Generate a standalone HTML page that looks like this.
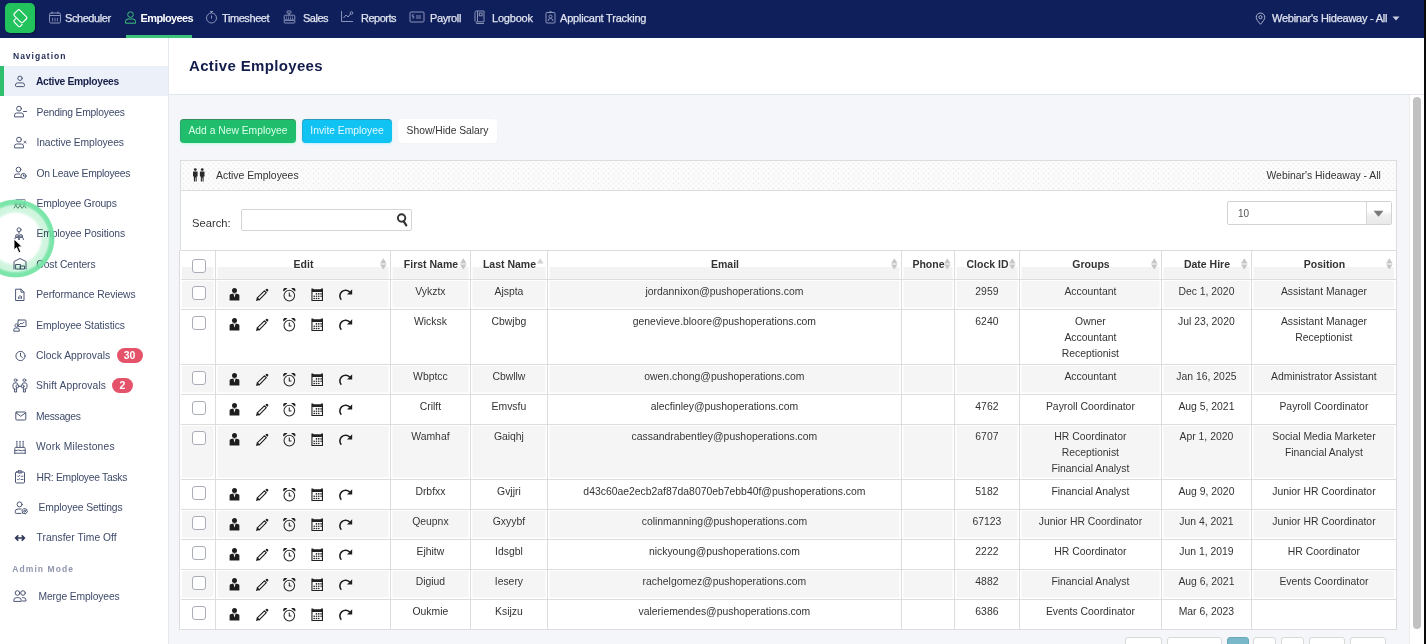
<!DOCTYPE html>
<html><head><meta charset="utf-8">
<style>
*{box-sizing:border-box;margin:0;padding:0}
html,body{width:1426px;height:644px;overflow:hidden}
body{position:relative;will-change:transform;background:#f4f6fa;font-family:"Liberation Sans",sans-serif;color:#333}
.abs{position:absolute}
#nav{left:0;top:0;width:1424px;height:38px;background:#0f1f5b}
#blk{left:1424px;top:0;width:2px;height:644px;background:#0a0a0a}
.logo{left:5px;top:3px;width:30px;height:30px;border-radius:5px;background:#22c25d;box-shadow:1px 1px 1px rgba(0,0,0,.35)}
.ni{top:0;height:36px;line-height:36px;font-size:11px;color:#dfe3ef;letter-spacing:-0.3px;white-space:nowrap;-webkit-text-stroke:0.25px #dfe3ef}
.ni.act{-webkit-text-stroke:0}
.ni.act{color:#fff;font-weight:bold}
.nic{position:absolute;top:11px}
.uline{left:126px;top:35px;width:66px;height:3px;background:#3cc27a}
#side{left:0;top:38px;width:169px;height:606px;background:#fff;border-right:1px solid #e4e8ef}
.sl{left:13px;font-size:8.5px;font-weight:bold;letter-spacing:1.0px;color:#1f2a55;white-space:nowrap}
.si{left:0;width:168px;height:30.4px;line-height:30.4px;font-size:10.3px;color:#3e4a69;white-space:nowrap}
.si .t{position:absolute;left:36px;top:1.4px}
.si .ic{position:absolute;left:13px;top:9px}
.si.act{background:#ecf1f9}
.si.act .t{font-weight:bold;color:#17204a;letter-spacing:-0.2px}
.si.act:before{content:"";position:absolute;left:0;top:0;width:4px;height:100%;background:#2fbf6e}
.badge{position:absolute;top:8px;height:15px;line-height:15px;border-radius:8px;background:#e4536a;color:#fff;font-size:10.5px;font-weight:bold;text-align:center}
#hdr{left:169px;top:38px;width:1255px;height:57px;background:#fff;border-bottom:1px solid #e2e6ee}
#hdr h1{position:absolute;left:20px;top:18.9px;font-size:15px;font-weight:bold;color:#131d4b;letter-spacing:0.35px;white-space:nowrap}
#sb{left:1409px;top:95px;width:15px;height:549px;background:#fff;border-left:1px solid #ececec}
#thumb{left:1413px;top:97px;width:8px;height:532px;border-radius:4px;background:#c1c1c1}
.btn{top:119px;height:24px;line-height:24.6px;border-radius:4px;font-size:10.3px;text-align:center;white-space:nowrap}

#panel{left:180px;top:160px;width:1217px;height:91px;background:#fff;border:1px solid #ddd;border-bottom:none}
#panel .ph{position:absolute;left:0;top:0;width:100%;height:30px;border-bottom:1px solid #dcdcdc;background-color:#fdfdfd;background-image:radial-gradient(#ededed 0.9px,transparent 1.1px),radial-gradient(#ededed 0.9px,transparent 1.1px);background-size:5px 5px;background-position:0 0,2.5px 2.5px}
.pht{top:167.8px;height:16px;line-height:16px;font-size:10.4px;color:#333;white-space:nowrap}
.srch{left:241px;top:209px;width:171px;height:22px;border:1px solid #d6d6d6;border-radius:2px;background:#fff}
.sel{left:1227px;top:201px;width:165px;height:24px;border:1px solid #d3d3d3;border-radius:2px;background:#fff;font-size:9.5px;color:#555}
.selb{position:absolute;left:137.5px;top:0;width:25.5px;height:22px;border-left:1px solid #d8d8d8;background:linear-gradient(#fff 0,#fff 40%,#efefef 60%,#e9e9e9 100%)}
#tbl{left:180px;top:250px;width:1217px;height:380px;border:1px solid #dcdcdc;border-left-color:#fff;background:#fff;font-size:10.4px;color:#333}
#tbl .abs{position:absolute}
.thg{background:#f3f3f3}
.rg{background:#f5f5f5}
.hl{left:0;width:1215px;height:4px;background:linear-gradient(rgba(255,255,255,.55) 0 1px,#fff 1px 2px,#dddddd 2px 3px,#fff 3px 4px)}
.vl{top:0;width:1px;height:378px;background:#dddddd}
.vw{top:0;width:5px;height:378px;background:linear-gradient(90deg,rgba(255,255,255,.55) 0 1px,#fff 1px 2px,transparent 2px 3px,#fff 3px 4px,rgba(255,255,255,.55) 4px 5px)}
.th{top:4.5px;text-shadow:0 1px 0 #fff;height:16px;line-height:16px;text-align:center;font-weight:bold;font-size:10.5px;color:#333;white-space:nowrap}
.td{line-height:16px;text-align:center;white-space:nowrap;margin-left:-0.6px;text-shadow:0 0 1px #fff,0 0 1px #fff}
.cb{width:14px;height:14px;border:1px solid #a9adb8;border-radius:3px;background:#fff}
.pg{top:637px;height:12px;border:1px solid #d9d9d9;border-radius:3px;background:#fff}
.ei{filter:drop-shadow(0 0 0.8px #fff)}
</style></head><body>
<div id="nav" class="abs"></div>
<div class="abs logo"></div>
<div class="abs uline"></div>
<svg class="abs" style="left:5px;top:3px" width="30" height="30" viewBox="0 0 30 30" fill="none" stroke="#fff" stroke-width="1.15" stroke-linejoin="round" stroke-linecap="round"><rect x="9.2" y="9.3" width="12.3" height="7.9" rx="1.7" transform="rotate(45 15.35 13.25)"/><path d="M10.6 15.8L9.2 17.2a1.3 1.3 0 0 0 0 1.8l4.3 4.3a1.3 1.3 0 0 0 1.8 0l1.8-1.8"/></svg>
<svg class="abs" style="left:48px;top:11px" width="14" height="13" viewBox="0 0 14 13" fill="none" stroke="#8a93b8" stroke-width="1"><rect x="1.5" y="2" width="11" height="10" rx="1.5"/><path d="M4 0.5v2.5M10 0.5v2.5M1.5 4.5h11"/><path d="M4.6 6.8v3.6M7 6.8v3.6M9.4 6.8v3.6" stroke-width="0.85"/></svg>
<div class="abs ni" style="left:65px;letter-spacing:-0.43px">Scheduler</div>
<svg class="abs" style="left:124px;top:11px" width="13" height="13" viewBox="0 0 13 13" fill="none" stroke="#3cc27a" stroke-width="1"><circle cx="6.5" cy="3.6" r="2.8"/><path d="M1.5 12.2v-1.6a2.6 2.6 0 0 1 2.6-2.6h4.8a2.6 2.6 0 0 1 2.6 2.6v1.6z"/></svg>
<div class="abs ni act" style="left:140.5px;letter-spacing:-0.62px">Employees</div>
<svg class="abs" style="left:205px;top:10px" width="13" height="14" viewBox="0 0 13 14" fill="none" stroke="#8a93b8" stroke-width="1"><circle cx="6.5" cy="8" r="5"/><path d="M5 1.5h3M6.5 1.5v1.5M6.5 5.5v3"/></svg>
<div class="abs ni" style="left:222px;letter-spacing:-0.42px">Timesheet</div>
<svg class="abs" style="left:283px;top:10px" width="13" height="14" viewBox="0 0 13 14" fill="none" stroke="#8a93b8" stroke-width="1"><rect x="4" y="1" width="4" height="2.2" rx="0.6"/><path d="M6 3.2v2"/><rect x="1.2" y="5.2" width="10.6" height="5" rx="1"/><rect x="1.2" y="10.2" width="10.6" height="2.8" rx="0.6"/><path d="M3 7h1M5 7h1M7 7h1M9 7h1M3 8.6h1M5 8.6h1M7 8.6h1M9 8.6h1" stroke-width="0.9"/></svg>
<div class="abs ni" style="left:303px;letter-spacing:-0.5px">Sales</div>
<svg class="abs" style="left:340px;top:10px" width="14" height="13" viewBox="0 0 14 13" fill="none" stroke="#8a93b8" stroke-width="1"><path d="M1.5 1v10.5h11.5"/><path d="M3.5 8l2.5-3 2 2 2.5-3"/><circle cx="11.5" cy="3" r="1.3"/></svg>
<div class="abs ni" style="left:361px;letter-spacing:-0.5px">Reports</div>
<svg class="abs" style="left:409px;top:11px" width="16" height="12" viewBox="0 0 16 12" fill="none" stroke="#8a93b8" stroke-width="1"><rect x="1" y="1" width="14" height="10" rx="1"/><path d="M4.8 3.8h-1.5v1.6h1.5v1.6h-1.5M7 5h5M7 7h5" stroke-width="0.9"/></svg>
<div class="abs ni" style="left:430px;letter-spacing:-0.38px">Payroll</div>
<svg class="abs" style="left:473px;top:10px" width="13" height="14" viewBox="0 0 13 14" fill="none" stroke="#8a93b8" stroke-width="1"><path d="M2 11.5v-9a1.5 1.5 0 0 1 1.5-1.5h7.5v10.8h-7.5a1.5 1.5 0 0 0 0 1.7h7.5"/><path d="M4.5 1v10.5"/><rect x="6.3" y="3" width="2.8" height="2.8"/></svg>
<div class="abs ni" style="left:492px;letter-spacing:-0.2px">Logbook</div>
<svg class="abs" style="left:545px;top:10px" width="11" height="14" viewBox="0 0 11 14" fill="none" stroke="#8a93b8" stroke-width="1"><rect x="1" y="2.5" width="9" height="10.5" rx="0.8"/><path d="M4 2.5l1.5-1.5 1.5 1.5"/><circle cx="5.5" cy="6.5" r="1.5"/><path d="M3 11a2.5 2.5 0 0 1 5 0"/></svg>
<div class="abs ni" style="left:560px;letter-spacing:-0.2px">Applicant Tracking</div>
<svg class="abs" style="left:1255px;top:12px" width="11" height="13" viewBox="0 0 11 13" fill="none" stroke="#aeb5d0" stroke-width="1"><path d="M5.5 12.3c-2.4-2.8-4.3-5-4.3-7a4.3 4.3 0 0 1 8.6 0c0 2-1.9 4.2-4.3 7z"/><circle cx="5.5" cy="5.2" r="1.6"/></svg>
<div class="abs ni" style="left:1272px;letter-spacing:-0.25px">Webinar's Hideaway - All</div>
<svg class="abs" style="left:1392px;top:16px" width="8" height="5" viewBox="0 0 8 5"><path d="M0.5 0.5h7l-3.5 4z" fill="#c9cee0"/></svg>

<div id="side" class="abs"></div>
<div class="abs si act" style="top:66.0px"><svg class="ic" width="14" height="14" viewBox="0 0 14 14" fill="none" stroke="#4b5674" stroke-width="1" stroke-linecap="round" stroke-linejoin="round" style="left:14px"><circle cx="6" cy="3.3" r="2.2"/><path d="M1.5 10.6v-0.6a2.1 2.1 0 0 1 2.1-2.1h4.8a2.1 2.1 0 0 1 2.1 2.1v0.6a1 1 0 0 1-1 1h-7a1 1 0 0 1-1-1z"/></svg><span class="t" style="left:36px;letter-spacing:-0.33px">Active Employees</span></div>
<div class="abs si" style="top:96.4px"><svg class="ic" width="14" height="14" viewBox="0 0 14 14" fill="none" stroke="#4b5674" stroke-width="1" stroke-linecap="round" stroke-linejoin="round"><circle cx="6" cy="3.6" r="2.4"/><path d="M1.5 11.5v-1.3a2.2 2.2 0 0 1 2.2-2.2h4.6a2.2 2.2 0 0 1 2.2 2.2v1.3z"/><path d="M10.5 6.5h3"/></svg><span class="t" style="left:36.5px;letter-spacing:-0.2px">Pending Employees</span></div>
<div class="abs si" style="top:126.8px"><svg class="ic" width="14" height="14" viewBox="0 0 14 14" fill="none" stroke="#4b5674" stroke-width="1" stroke-linecap="round" stroke-linejoin="round"><circle cx="6" cy="3.6" r="2.4"/><path d="M1.5 11.5v-1.3a2.2 2.2 0 0 1 2.2-2.2h4.6a2.2 2.2 0 0 1 2.2 2.2v1.3z"/><path d="M11 5.2l2 2M13 5.2l-2 2" stroke-width="0.9"/></svg><span class="t" style="left:36.5px;letter-spacing:-0.11px">Inactive Employees</span></div>
<div class="abs si" style="top:157.2px"><svg class="ic" width="14" height="14" viewBox="0 0 14 14" fill="none" stroke="#4b5674" stroke-width="1" stroke-linecap="round" stroke-linejoin="round"><circle cx="5.5" cy="3.6" r="2.4"/><path d="M7.5 11.5h-6v-1.3a2.2 2.2 0 0 1 2.2-2.2h3"/><circle cx="10.5" cy="10" r="2.6"/><path d="M10.5 8.8v1.3h1"/></svg><span class="t" style="left:36.5px;letter-spacing:-0.27px">On Leave Employees</span></div>
<div class="abs si" style="top:187.6px"><svg class="ic" width="14" height="14" viewBox="0 0 14 14" fill="none" stroke="#4b5674" stroke-width="1" stroke-linecap="round" stroke-linejoin="round"><path d="M3 2.5h9v2" stroke="#8a93ab"/><circle cx="2.8" cy="7" r="1.1"/><circle cx="7" cy="7" r="1.1"/><circle cx="11.2" cy="7" r="1.1"/><path d="M1 11l1.8-2.6 1.8 2.6M5.2 11l1.8-2.6 1.8 2.6M9.4 11l1.8-2.6 1.8 2.6" stroke="#5a8f74"/></svg><span class="t" style="left:36.5px;letter-spacing:-0.15px">Employee Groups</span></div>
<div class="abs si" style="top:218.0px"><svg class="ic" width="14" height="14" viewBox="0 0 14 14" fill="none" stroke="#4b5674" stroke-width="1" stroke-linecap="round" stroke-linejoin="round"><circle cx="6" cy="2.8" r="2"/><path d="M6 4.8v2.4"/><circle cx="4" cy="9" r="1.4"/><circle cx="8" cy="9" r="1.4"/><path d="M1.5 12.5a2.5 2.5 0 0 1 5 0M5.5 12.5a2.5 2.5 0 0 1 5 0"/></svg><span class="t" style="left:36.5px;letter-spacing:-0.11px">Employee Positions</span></div>
<div class="abs si" style="top:248.4px"><svg class="ic" width="14" height="14" viewBox="0 0 14 14" fill="none" stroke="#4b5674" stroke-width="1" stroke-linecap="round" stroke-linejoin="round"><path d="M1 12V4.5l6-3 6 3V12"/><rect x="3" y="7.5" width="4.5" height="4.5"/><rect x="7.5" y="9" width="4" height="3"/></svg><span class="t" style="left:36.3px;letter-spacing:-0.07px">Cost Centers</span></div>
<div class="abs si" style="top:278.8px"><svg class="ic" width="14" height="14" viewBox="0 0 14 14" fill="none" stroke="#4b5674" stroke-width="1" stroke-linecap="round" stroke-linejoin="round"><path d="M3 1.2h5l3 3v8.3h-8z"/><path d="M8 1.2v3h3"/><path d="M5.5 10.5v-1.5M7 10.5v-3M8.5 10.5v-2" stroke-width="0.9"/></svg><span class="t" style="left:36.3px;letter-spacing:-0.08px">Performance Reviews</span></div>
<div class="abs si" style="top:309.2px"><svg class="ic" width="14" height="14" viewBox="0 0 14 14" fill="none" stroke="#4b5674" stroke-width="1" stroke-linecap="round" stroke-linejoin="round"><rect x="5" y="2" width="8" height="6.5" rx="0.8"/><path d="M6.5 6.5l1.5-1.5 1.2 1 2-2" stroke-width="0.9"/><circle cx="3.5" cy="7.5" r="1.6"/><path d="M0.8 12.8v-0.8a2 2 0 0 1 2-2h1.5a2 2 0 0 1 2 2v0.8z"/></svg><span class="t" style="left:36.3px;letter-spacing:-0.07px">Employee Statistics</span></div>
<div class="abs si" style="top:339.6px"><svg class="ic" width="14" height="14" viewBox="0 0 14 14" fill="none" stroke="#4b5674" stroke-width="1" stroke-linecap="round" stroke-linejoin="round" style="left:14.5px"><circle cx="5.5" cy="7" r="4.6"/><path d="M5.5 4.2v3l1.8 1.2"/></svg><span class="t" style="left:36px;letter-spacing:0.03px">Clock Approvals</span><span class="badge" style="left:116.5px;width:26px">30</span></div>
<div class="abs si" style="top:370.0px"><svg class="ic" width="17" height="14" viewBox="0 0 17 14" fill="none" stroke="#4b5674" stroke-width="1" stroke-linecap="round" stroke-linejoin="round" style="left:11.5px;top:8px;height:15px"><ellipse cx="3.6" cy="1.7" rx="1.5" ry="1.2"/><ellipse cx="12.4" cy="1.7" rx="1.5" ry="1.2"/><path d="M3.3 10.6h-0.4a1.9 1.9 0 0 1-1.9-1.9v-2.4a1.9 1.9 0 0 1 1.9-1.9h1.2a1.9 1.9 0 0 1 1.9 1.6M4.6 9.2v4.3h-2v-2.9M12.7 10.6h0.4a1.9 1.9 0 0 0 1.9-1.9v-2.4a1.9 1.9 0 0 0-1.9-1.9h-1.2a1.9 1.9 0 0 0-1.9 1.6M11.4 9.2v4.3h2v-2.9"/><path d="M6.8 7.8h2.4"/><circle cx="5.4" cy="7.8" r="1.45"/><circle cx="10.6" cy="7.8" r="1.45"/></svg><span class="t" style="left:36px;letter-spacing:0.09px">Shift Approvals</span><span class="badge" style="left:111.8px;width:21px">2</span></div>
<div class="abs si" style="top:400.4px"><svg class="ic" width="14" height="14" viewBox="0 0 14 14" fill="none" stroke="#4b5674" stroke-width="1" stroke-linecap="round" stroke-linejoin="round" style="left:14.5px"><rect x="0.8" y="3" width="10" height="8" rx="1"/><path d="M1 3.8l4.8 3.5 4.8-3.5"/></svg><span class="t" style="left:36px;letter-spacing:-0.3px">Messages</span></div>
<div class="abs si" style="top:430.8px"><svg class="ic" width="14" height="14" viewBox="0 0 14 14" fill="none" stroke="#4b5674" stroke-width="1" stroke-linecap="round" stroke-linejoin="round"><path d="M1.3 13.2h11.4M1.8 13.2V8.4a1 1 0 0 1 1-1h8.4a1 1 0 0 1 1 1v4.8M1.8 10.4c1.7 1.2 3.4-1.2 5.2 0s3.5-1.2 5.2 0M3.9 7.4V3.2M7 7.4V3.2M10.1 7.4V3.2" stroke-width="0.95"/><path d="M3.9 1.4v.7M7 1.4v.7M10.1 1.4v.7" stroke-width="1.4"/></svg><span class="t" style="left:36px;letter-spacing:0.19px">Work Milestones</span></div>
<div class="abs si" style="top:461.2px"><svg class="ic" width="14" height="14" viewBox="0 0 14 14" fill="none" stroke="#4b5674" stroke-width="1" stroke-linecap="round" stroke-linejoin="round" style="left:14px"><rect x="1.5" y="2" width="9" height="11" rx="1"/><rect x="4" y="0.8" width="4" height="2.2" rx="0.6"/><path d="M3.5 6l0.8 0.8 1.2-1.5M7 6.2h2M3.5 9.3l0.8 0.8 1.2-1.5M7 9.5h2" stroke-width="0.9"/></svg><span class="t" style="left:36.5px;letter-spacing:-0.27px">HR: Employee Tasks</span></div>
<div class="abs si" style="top:491.6px"><svg class="ic" width="15" height="14" viewBox="0 0 15 14" fill="none" stroke="#4b5674" stroke-width="1" stroke-linecap="round" stroke-linejoin="round" style="left:14px"><circle cx="5.6" cy="3.4" r="2.5"/><path d="M7 12.4H2.2a1 1 0 0 1-1-1v-0.6a2.8 2.8 0 0 1 2.8-2.8h3.2"/><path d="M13.40 10.95L12.20 11.80L11.35 13.00L10.01 12.38L8.55 12.25L8.42 10.79L7.80 9.45L9.00 8.60L9.85 7.40L11.19 8.02L12.65 8.15L12.78 9.61Z"/><circle cx="10.6" cy="10.2" r="0.9"/></svg><span class="t" style="left:38.5px;letter-spacing:-0.11px">Employee Settings</span></div>
<div class="abs si" style="top:522.0px"><svg class="ic" width="14" height="14" viewBox="0 0 14 14" fill="none" stroke="#2e3856" stroke-width="1.6" stroke-linecap="round" stroke-linejoin="round" style="left:13.8px"><path d="M1.5 7h9M3.8 4.8L1.5 7l2.3 2.2M8.2 4.8L10.5 7 8.2 9.2"/></svg><span class="t" style="left:36.5px;letter-spacing:0.04px">Transfer Time Off</span></div>
<div class="abs si" style="top:580.2px"><svg class="ic" width="15" height="14" viewBox="0 0 15 14" fill="none" stroke="#4b5674" stroke-width="1" stroke-linecap="round" stroke-linejoin="round"><circle cx="4.5" cy="4" r="2.3"/><path d="M0.8 12v-0.8a2.5 2.5 0 0 1 2.5-2.5h2.4a2.5 2.5 0 0 1 2.5 2.5V12z"/><circle cx="10" cy="4" r="2.3"/><path d="M9.5 8.7h1a2.5 2.5 0 0 1 2.5 2.5V12h-3.5"/></svg><span class="t" style="left:38.5px;letter-spacing:-0.13px">Merge Employees</span></div>
<div class="abs sl" style="top:50.5px">Navigation</div>
<div class="abs sl" style="top:564px;left:12.2px;color:#8e96ad;letter-spacing:1.1px">Admin Mode</div>
<div id="hdr" class="abs"><h1>Active Employees</h1></div>
<div id="panel" class="abs"><div class="ph"></div></div>
<svg class="abs" style="left:192px;top:168px" width="14" height="14" viewBox="0 0 14 14" fill="#2a2a2a"><circle cx="3.3" cy="1.6" r="1.4"/><circle cx="10.2" cy="1.6" r="1.4"/><path d="M1 3.6h4.6v5h-0.9v4.8h-1.1v-3.6h-0.6v3.6h-1.1v-4.8h-0.9zM7.9 3.6h4.6v5h-0.9v4.8h-1.1v-3.6h-0.6v3.6h-1.1v-4.8h-0.9z"/></svg>
<div class="abs pht" style="left:216px">Active Employees</div>
<div class="abs pht" style="left:1266.5px">Webinar's Hideaway - All</div>
<div class="abs" style="left:192px;top:216.5px;font-size:11.2px;color:#333;letter-spacing:0px">Search:</div>
<div class="abs srch"></div>
<svg class="abs" style="left:395px;top:212px" width="14" height="16" viewBox="0 0 14 16" fill="none" stroke="#333" stroke-width="1.9"><circle cx="6.6" cy="6" r="3.7"/><path d="M8.7 9.3l2.6 4" stroke-width="2.2" stroke-linecap="round"/></svg>
<div class="abs sel"><span style="position:absolute;left:10px;top:5.5px;font-size:10px">10</span><div class="selb"></div><svg style="position:absolute;left:145px;top:8px" width="11" height="8" viewBox="0 0 11 8"><path d="M0.5 0.8h10l-5 6z" fill="#7a7a7a"/></svg></div>
<div class="abs" style="left:179px;top:250px;width:1px;height:380px;background:#dcdcdc"></div>
<div id="tbl" class="abs">
<div class="abs thg" style="left:1px;top:16px;width:1212px;height:12px"></div>
<div class="abs rg" style="left:1px;top:29px;width:1212px;height:28px"></div>
<div class="abs rg" style="left:1px;top:114px;width:1212px;height:28px"></div>
<div class="abs rg" style="left:1px;top:174px;width:1212px;height:53px"></div>
<div class="abs rg" style="left:1px;top:259px;width:1212px;height:28px"></div>
<div class="abs rg" style="left:1px;top:319px;width:1212px;height:28px"></div>
<div class="abs vw" style="left:32px"></div>
<div class="abs vw" style="left:207px"></div>
<div class="abs vw" style="left:287px"></div>
<div class="abs vw" style="left:364px"></div>
<div class="abs vw" style="left:718px"></div>
<div class="abs vw" style="left:771px"></div>
<div class="abs vw" style="left:836px"></div>
<div class="abs vw" style="left:978px"></div>
<div class="abs vw" style="left:1068px"></div>
<div class="abs hl" style="top:28px;height:2px;background:linear-gradient(#ddd 0 1px,#fff 1px 2px)"></div>
<div class="abs hl" style="top:56px"></div>
<div class="abs hl" style="top:111px"></div>
<div class="abs hl" style="top:141px"></div>
<div class="abs hl" style="top:171px"></div>
<div class="abs hl" style="top:226px"></div>
<div class="abs hl" style="top:256px"></div>
<div class="abs hl" style="top:286px"></div>
<div class="abs hl" style="top:316px"></div>
<div class="abs hl" style="top:346px"></div>
<div class="abs vl" style="left:34px"></div>
<div class="abs vl" style="left:209px"></div>
<div class="abs vl" style="left:289px"></div>
<div class="abs vl" style="left:366px"></div>
<div class="abs vl" style="left:720px"></div>
<div class="abs vl" style="left:773px"></div>
<div class="abs vl" style="left:838px"></div>
<div class="abs vl" style="left:980px"></div>
<div class="abs vl" style="left:1070px"></div>
<div class="abs th" style="left:35px;width:175px">Edit</div>
<svg class="abs" style="left:198.7px;top:7px" width="7" height="12" viewBox="0 0 7 12"><path d="M0 5.6L3.3 0.3 6.6 5.6zM0 6.6L3.3 11.6 6.6 6.6z" fill="#c6c6c6"/></svg>
<div class="abs th" style="left:210px;width:80px">First Name</div>
<svg class="abs" style="left:278.7px;top:7px" width="7" height="12" viewBox="0 0 7 12"><path d="M0 5.6L3.3 0.3 6.6 5.6zM0 6.6L3.3 11.6 6.6 6.6z" fill="#c6c6c6"/></svg>
<div class="abs th" style="left:290px;width:77px">Last Name</div>
<svg class="abs" style="left:355.7px;top:7px" width="7" height="12" viewBox="0 0 7 12"><path d="M0 5.6L3.3 0.3 6.6 5.6z" fill="#d2d2d2"/></svg>
<div class="abs th" style="left:367px;width:354px">Email</div>
<svg class="abs" style="left:709.7px;top:7px" width="7" height="12" viewBox="0 0 7 12"><path d="M0 5.6L3.3 0.3 6.6 5.6zM0 6.6L3.3 11.6 6.6 6.6z" fill="#c6c6c6"/></svg>
<div class="abs th" style="left:721px;width:53px">Phone</div>
<svg class="abs" style="left:762.7px;top:7px" width="7" height="12" viewBox="0 0 7 12"><path d="M0 5.6L3.3 0.3 6.6 5.6zM0 6.6L3.3 11.6 6.6 6.6z" fill="#c6c6c6"/></svg>
<div class="abs th" style="left:774px;width:65px">Clock ID</div>
<svg class="abs" style="left:827.7px;top:7px" width="7" height="12" viewBox="0 0 7 12"><path d="M0 5.6L3.3 0.3 6.6 5.6zM0 6.6L3.3 11.6 6.6 6.6z" fill="#c6c6c6"/></svg>
<div class="abs th" style="left:839px;width:142px">Groups</div>
<svg class="abs" style="left:969.7px;top:7px" width="7" height="12" viewBox="0 0 7 12"><path d="M0 5.6L3.3 0.3 6.6 5.6zM0 6.6L3.3 11.6 6.6 6.6z" fill="#c6c6c6"/></svg>
<div class="abs th" style="left:981px;width:90px">Date Hire</div>
<svg class="abs" style="left:1059.7px;top:7px" width="7" height="12" viewBox="0 0 7 12"><path d="M0 5.6L3.3 0.3 6.6 5.6zM0 6.6L3.3 11.6 6.6 6.6z" fill="#c6c6c6"/></svg>
<div class="abs th" style="left:1071px;width:145px">Position</div>
<svg class="abs" style="left:1204.7px;top:7px" width="7" height="12" viewBox="0 0 7 12"><path d="M0 5.6L3.3 0.3 6.6 5.6zM0 6.6L3.3 11.6 6.6 6.6z" fill="#c6c6c6"/></svg>
<div class="abs cb" style="left:11px;top:8px"></div>
<div class="abs cb" style="left:11px;top:35px"></div>
<svg class="abs ei" style="left:48.3px;top:37px" width="11" height="13" viewBox="0 0 11 13"><circle cx="5.5" cy="2.6" r="2.5" fill="#1e1e1e"/><path d="M0.6 12.4V7.6q0-1.5 1.5-1.7l2.3-0.3 1.1 4.2 1.1-4.2 2.3 0.3q1.5 0.2 1.5 1.7v4.8z" fill="#1e1e1e"/><path d="M4.9 5.5h1.2l-0.6 0.9z" fill="#1e1e1e"/></svg>
<svg class="abs ei" style="left:73.6px;top:37px" width="14" height="14" viewBox="0 0 14 14"><path d="M0.9 13.1l1-3.7 2.7 2.7z" fill="#1e1e1e"/><path d="M2.3 9.9L9.4 2.8 11.3 4.7 4.2 11.8z" fill="none" stroke="#1e1e1e" stroke-width="1.15" stroke-linejoin="round"/><path d="M10.3 1.9l0.9-0.9q0.7-0.6 1.4 0l0.5 0.5q0.6 0.7 0 1.4l-0.9 0.9z" fill="#1e1e1e"/></svg>
<svg class="abs ei" style="left:102.2px;top:37px" width="13" height="14" viewBox="0 0 13 14"><circle cx="6.3" cy="7.6" r="5.3" fill="none" stroke="#2a2a2a" stroke-width="1.05"/><path d="M6.3 4.6v3.4h2.2" fill="none" stroke="#2a2a2a" stroke-width="1.1"/><path d="M0.6 3.6A2.55 2.55 0 0 1 4.4 0.3z" fill="#1e1e1e"/><path d="M12 3.6A2.55 2.55 0 0 0 8.2 0.3z" fill="#1e1e1e"/></svg>
<svg class="abs ei" style="left:130px;top:37px" width="13" height="14" viewBox="0 0 13 14"><path d="M0.4 0.6h1.6l0.8 0.7h6.8l0.8-0.7h1.6v12.4h-11.6z" fill="#222"/><rect x="1.5" y="4" width="9.4" height="8" fill="#fafafa"/><g fill="#1e1e1e"><circle cx="5.5" cy="5.9" r="0.8"/><circle cx="7.8" cy="5.9" r="0.8"/><circle cx="10.1" cy="5.9" r="0.8"/><circle cx="3.2" cy="8.2" r="0.8"/><circle cx="5.5" cy="8.2" r="0.8"/><circle cx="7.8" cy="8.2" r="0.8"/><circle cx="10.1" cy="8.2" r="0.8"/><circle cx="3.2" cy="10.5" r="0.8"/><circle cx="5.5" cy="10.5" r="0.8"/><circle cx="7.8" cy="10.5" r="0.8"/></g></svg>
<svg class="abs ei" style="left:158px;top:37px" width="14" height="13" viewBox="0 0 14 13" fill="none" stroke="#1e1e1e" stroke-width="1.6"><path d="M2.3 11.8A5 5 0 0 1 11 4.2"/><path d="M13.2 1.2v5.2H8z" fill="#1e1e1e" stroke="none"/></svg>
<div class="abs td" style="left:210px;top:33px;width:80px">Vykztx</div>
<div class="abs td" style="left:290px;top:33px;width:77px">Ajspta</div>
<div class="abs td" style="left:367px;top:33px;width:354px">jordannixon@pushoperations.com</div>
<div class="abs td" style="left:774px;top:33px;width:65px">2959</div>
<div class="abs td" style="left:839px;top:33px;width:142px">Accountant</div>
<div class="abs td" style="left:981px;top:33px;width:90px">Dec 1, 2020</div>
<div class="abs td" style="left:1071px;top:33px;width:145px">Assistant Manager</div>
<div class="abs cb" style="left:11px;top:65px"></div>
<svg class="abs ei" style="left:48.3px;top:67px" width="11" height="13" viewBox="0 0 11 13"><circle cx="5.5" cy="2.6" r="2.5" fill="#1e1e1e"/><path d="M0.6 12.4V7.6q0-1.5 1.5-1.7l2.3-0.3 1.1 4.2 1.1-4.2 2.3 0.3q1.5 0.2 1.5 1.7v4.8z" fill="#1e1e1e"/><path d="M4.9 5.5h1.2l-0.6 0.9z" fill="#1e1e1e"/></svg>
<svg class="abs ei" style="left:73.6px;top:67px" width="14" height="14" viewBox="0 0 14 14"><path d="M0.9 13.1l1-3.7 2.7 2.7z" fill="#1e1e1e"/><path d="M2.3 9.9L9.4 2.8 11.3 4.7 4.2 11.8z" fill="none" stroke="#1e1e1e" stroke-width="1.15" stroke-linejoin="round"/><path d="M10.3 1.9l0.9-0.9q0.7-0.6 1.4 0l0.5 0.5q0.6 0.7 0 1.4l-0.9 0.9z" fill="#1e1e1e"/></svg>
<svg class="abs ei" style="left:102.2px;top:67px" width="13" height="14" viewBox="0 0 13 14"><circle cx="6.3" cy="7.6" r="5.3" fill="none" stroke="#2a2a2a" stroke-width="1.05"/><path d="M6.3 4.6v3.4h2.2" fill="none" stroke="#2a2a2a" stroke-width="1.1"/><path d="M0.6 3.6A2.55 2.55 0 0 1 4.4 0.3z" fill="#1e1e1e"/><path d="M12 3.6A2.55 2.55 0 0 0 8.2 0.3z" fill="#1e1e1e"/></svg>
<svg class="abs ei" style="left:130px;top:67px" width="13" height="14" viewBox="0 0 13 14"><path d="M0.4 0.6h1.6l0.8 0.7h6.8l0.8-0.7h1.6v12.4h-11.6z" fill="#222"/><rect x="1.5" y="4" width="9.4" height="8" fill="#fafafa"/><g fill="#1e1e1e"><circle cx="5.5" cy="5.9" r="0.8"/><circle cx="7.8" cy="5.9" r="0.8"/><circle cx="10.1" cy="5.9" r="0.8"/><circle cx="3.2" cy="8.2" r="0.8"/><circle cx="5.5" cy="8.2" r="0.8"/><circle cx="7.8" cy="8.2" r="0.8"/><circle cx="10.1" cy="8.2" r="0.8"/><circle cx="3.2" cy="10.5" r="0.8"/><circle cx="5.5" cy="10.5" r="0.8"/><circle cx="7.8" cy="10.5" r="0.8"/></g></svg>
<svg class="abs ei" style="left:158px;top:67px" width="14" height="13" viewBox="0 0 14 13" fill="none" stroke="#1e1e1e" stroke-width="1.6"><path d="M2.3 11.8A5 5 0 0 1 11 4.2"/><path d="M13.2 1.2v5.2H8z" fill="#1e1e1e" stroke="none"/></svg>
<div class="abs td" style="left:210px;top:63px;width:80px">Wicksk</div>
<div class="abs td" style="left:290px;top:63px;width:77px">Cbwjbg</div>
<div class="abs td" style="left:367px;top:63px;width:354px">genevieve.bloore@pushoperations.com</div>
<div class="abs td" style="left:774px;top:63px;width:65px">6240</div>
<div class="abs td" style="left:839px;top:63px;width:142px">Owner<br>Accountant<br>Receptionist</div>
<div class="abs td" style="left:981px;top:63px;width:90px">Jul 23, 2020</div>
<div class="abs td" style="left:1071px;top:63px;width:145px">Assistant Manager<br>Receptionist</div>
<div class="abs cb" style="left:11px;top:120px"></div>
<svg class="abs ei" style="left:48.3px;top:122px" width="11" height="13" viewBox="0 0 11 13"><circle cx="5.5" cy="2.6" r="2.5" fill="#1e1e1e"/><path d="M0.6 12.4V7.6q0-1.5 1.5-1.7l2.3-0.3 1.1 4.2 1.1-4.2 2.3 0.3q1.5 0.2 1.5 1.7v4.8z" fill="#1e1e1e"/><path d="M4.9 5.5h1.2l-0.6 0.9z" fill="#1e1e1e"/></svg>
<svg class="abs ei" style="left:73.6px;top:122px" width="14" height="14" viewBox="0 0 14 14"><path d="M0.9 13.1l1-3.7 2.7 2.7z" fill="#1e1e1e"/><path d="M2.3 9.9L9.4 2.8 11.3 4.7 4.2 11.8z" fill="none" stroke="#1e1e1e" stroke-width="1.15" stroke-linejoin="round"/><path d="M10.3 1.9l0.9-0.9q0.7-0.6 1.4 0l0.5 0.5q0.6 0.7 0 1.4l-0.9 0.9z" fill="#1e1e1e"/></svg>
<svg class="abs ei" style="left:102.2px;top:122px" width="13" height="14" viewBox="0 0 13 14"><circle cx="6.3" cy="7.6" r="5.3" fill="none" stroke="#2a2a2a" stroke-width="1.05"/><path d="M6.3 4.6v3.4h2.2" fill="none" stroke="#2a2a2a" stroke-width="1.1"/><path d="M0.6 3.6A2.55 2.55 0 0 1 4.4 0.3z" fill="#1e1e1e"/><path d="M12 3.6A2.55 2.55 0 0 0 8.2 0.3z" fill="#1e1e1e"/></svg>
<svg class="abs ei" style="left:130px;top:122px" width="13" height="14" viewBox="0 0 13 14"><path d="M0.4 0.6h1.6l0.8 0.7h6.8l0.8-0.7h1.6v12.4h-11.6z" fill="#222"/><rect x="1.5" y="4" width="9.4" height="8" fill="#fafafa"/><g fill="#1e1e1e"><circle cx="5.5" cy="5.9" r="0.8"/><circle cx="7.8" cy="5.9" r="0.8"/><circle cx="10.1" cy="5.9" r="0.8"/><circle cx="3.2" cy="8.2" r="0.8"/><circle cx="5.5" cy="8.2" r="0.8"/><circle cx="7.8" cy="8.2" r="0.8"/><circle cx="10.1" cy="8.2" r="0.8"/><circle cx="3.2" cy="10.5" r="0.8"/><circle cx="5.5" cy="10.5" r="0.8"/><circle cx="7.8" cy="10.5" r="0.8"/></g></svg>
<svg class="abs ei" style="left:158px;top:122px" width="14" height="13" viewBox="0 0 14 13" fill="none" stroke="#1e1e1e" stroke-width="1.6"><path d="M2.3 11.8A5 5 0 0 1 11 4.2"/><path d="M13.2 1.2v5.2H8z" fill="#1e1e1e" stroke="none"/></svg>
<div class="abs td" style="left:210px;top:118px;width:80px">Wbptcc</div>
<div class="abs td" style="left:290px;top:118px;width:77px">Cbwllw</div>
<div class="abs td" style="left:367px;top:118px;width:354px">owen.chong@pushoperations.com</div>
<div class="abs td" style="left:839px;top:118px;width:142px">Accountant</div>
<div class="abs td" style="left:981px;top:118px;width:90px">Jan 16, 2025</div>
<div class="abs td" style="left:1071px;top:118px;width:145px">Administrator Assistant</div>
<div class="abs cb" style="left:11px;top:150px"></div>
<svg class="abs ei" style="left:48.3px;top:152px" width="11" height="13" viewBox="0 0 11 13"><circle cx="5.5" cy="2.6" r="2.5" fill="#1e1e1e"/><path d="M0.6 12.4V7.6q0-1.5 1.5-1.7l2.3-0.3 1.1 4.2 1.1-4.2 2.3 0.3q1.5 0.2 1.5 1.7v4.8z" fill="#1e1e1e"/><path d="M4.9 5.5h1.2l-0.6 0.9z" fill="#1e1e1e"/></svg>
<svg class="abs ei" style="left:73.6px;top:152px" width="14" height="14" viewBox="0 0 14 14"><path d="M0.9 13.1l1-3.7 2.7 2.7z" fill="#1e1e1e"/><path d="M2.3 9.9L9.4 2.8 11.3 4.7 4.2 11.8z" fill="none" stroke="#1e1e1e" stroke-width="1.15" stroke-linejoin="round"/><path d="M10.3 1.9l0.9-0.9q0.7-0.6 1.4 0l0.5 0.5q0.6 0.7 0 1.4l-0.9 0.9z" fill="#1e1e1e"/></svg>
<svg class="abs ei" style="left:102.2px;top:152px" width="13" height="14" viewBox="0 0 13 14"><circle cx="6.3" cy="7.6" r="5.3" fill="none" stroke="#2a2a2a" stroke-width="1.05"/><path d="M6.3 4.6v3.4h2.2" fill="none" stroke="#2a2a2a" stroke-width="1.1"/><path d="M0.6 3.6A2.55 2.55 0 0 1 4.4 0.3z" fill="#1e1e1e"/><path d="M12 3.6A2.55 2.55 0 0 0 8.2 0.3z" fill="#1e1e1e"/></svg>
<svg class="abs ei" style="left:130px;top:152px" width="13" height="14" viewBox="0 0 13 14"><path d="M0.4 0.6h1.6l0.8 0.7h6.8l0.8-0.7h1.6v12.4h-11.6z" fill="#222"/><rect x="1.5" y="4" width="9.4" height="8" fill="#fafafa"/><g fill="#1e1e1e"><circle cx="5.5" cy="5.9" r="0.8"/><circle cx="7.8" cy="5.9" r="0.8"/><circle cx="10.1" cy="5.9" r="0.8"/><circle cx="3.2" cy="8.2" r="0.8"/><circle cx="5.5" cy="8.2" r="0.8"/><circle cx="7.8" cy="8.2" r="0.8"/><circle cx="10.1" cy="8.2" r="0.8"/><circle cx="3.2" cy="10.5" r="0.8"/><circle cx="5.5" cy="10.5" r="0.8"/><circle cx="7.8" cy="10.5" r="0.8"/></g></svg>
<svg class="abs ei" style="left:158px;top:152px" width="14" height="13" viewBox="0 0 14 13" fill="none" stroke="#1e1e1e" stroke-width="1.6"><path d="M2.3 11.8A5 5 0 0 1 11 4.2"/><path d="M13.2 1.2v5.2H8z" fill="#1e1e1e" stroke="none"/></svg>
<div class="abs td" style="left:210px;top:148px;width:80px">Crilft</div>
<div class="abs td" style="left:290px;top:148px;width:77px">Emvsfu</div>
<div class="abs td" style="left:367px;top:148px;width:354px">alecfinley@pushoperations.com</div>
<div class="abs td" style="left:774px;top:148px;width:65px">4762</div>
<div class="abs td" style="left:839px;top:148px;width:142px">Payroll Coordinator</div>
<div class="abs td" style="left:981px;top:148px;width:90px">Aug 5, 2021</div>
<div class="abs td" style="left:1071px;top:148px;width:145px">Payroll Coordinator</div>
<div class="abs cb" style="left:11px;top:180px"></div>
<svg class="abs ei" style="left:48.3px;top:182px" width="11" height="13" viewBox="0 0 11 13"><circle cx="5.5" cy="2.6" r="2.5" fill="#1e1e1e"/><path d="M0.6 12.4V7.6q0-1.5 1.5-1.7l2.3-0.3 1.1 4.2 1.1-4.2 2.3 0.3q1.5 0.2 1.5 1.7v4.8z" fill="#1e1e1e"/><path d="M4.9 5.5h1.2l-0.6 0.9z" fill="#1e1e1e"/></svg>
<svg class="abs ei" style="left:73.6px;top:182px" width="14" height="14" viewBox="0 0 14 14"><path d="M0.9 13.1l1-3.7 2.7 2.7z" fill="#1e1e1e"/><path d="M2.3 9.9L9.4 2.8 11.3 4.7 4.2 11.8z" fill="none" stroke="#1e1e1e" stroke-width="1.15" stroke-linejoin="round"/><path d="M10.3 1.9l0.9-0.9q0.7-0.6 1.4 0l0.5 0.5q0.6 0.7 0 1.4l-0.9 0.9z" fill="#1e1e1e"/></svg>
<svg class="abs ei" style="left:102.2px;top:182px" width="13" height="14" viewBox="0 0 13 14"><circle cx="6.3" cy="7.6" r="5.3" fill="none" stroke="#2a2a2a" stroke-width="1.05"/><path d="M6.3 4.6v3.4h2.2" fill="none" stroke="#2a2a2a" stroke-width="1.1"/><path d="M0.6 3.6A2.55 2.55 0 0 1 4.4 0.3z" fill="#1e1e1e"/><path d="M12 3.6A2.55 2.55 0 0 0 8.2 0.3z" fill="#1e1e1e"/></svg>
<svg class="abs ei" style="left:130px;top:182px" width="13" height="14" viewBox="0 0 13 14"><path d="M0.4 0.6h1.6l0.8 0.7h6.8l0.8-0.7h1.6v12.4h-11.6z" fill="#222"/><rect x="1.5" y="4" width="9.4" height="8" fill="#fafafa"/><g fill="#1e1e1e"><circle cx="5.5" cy="5.9" r="0.8"/><circle cx="7.8" cy="5.9" r="0.8"/><circle cx="10.1" cy="5.9" r="0.8"/><circle cx="3.2" cy="8.2" r="0.8"/><circle cx="5.5" cy="8.2" r="0.8"/><circle cx="7.8" cy="8.2" r="0.8"/><circle cx="10.1" cy="8.2" r="0.8"/><circle cx="3.2" cy="10.5" r="0.8"/><circle cx="5.5" cy="10.5" r="0.8"/><circle cx="7.8" cy="10.5" r="0.8"/></g></svg>
<svg class="abs ei" style="left:158px;top:182px" width="14" height="13" viewBox="0 0 14 13" fill="none" stroke="#1e1e1e" stroke-width="1.6"><path d="M2.3 11.8A5 5 0 0 1 11 4.2"/><path d="M13.2 1.2v5.2H8z" fill="#1e1e1e" stroke="none"/></svg>
<div class="abs td" style="left:210px;top:178px;width:80px">Wamhaf</div>
<div class="abs td" style="left:290px;top:178px;width:77px">Gaiqhj</div>
<div class="abs td" style="left:367px;top:178px;width:354px">cassandrabentley@pushoperations.com</div>
<div class="abs td" style="left:774px;top:178px;width:65px">6707</div>
<div class="abs td" style="left:839px;top:178px;width:142px">HR Coordinator<br>Receptionist<br>Financial Analyst</div>
<div class="abs td" style="left:981px;top:178px;width:90px">Apr 1, 2020</div>
<div class="abs td" style="left:1071px;top:178px;width:145px">Social Media Marketer<br>Financial Analyst</div>
<div class="abs cb" style="left:11px;top:235px"></div>
<svg class="abs ei" style="left:48.3px;top:237px" width="11" height="13" viewBox="0 0 11 13"><circle cx="5.5" cy="2.6" r="2.5" fill="#1e1e1e"/><path d="M0.6 12.4V7.6q0-1.5 1.5-1.7l2.3-0.3 1.1 4.2 1.1-4.2 2.3 0.3q1.5 0.2 1.5 1.7v4.8z" fill="#1e1e1e"/><path d="M4.9 5.5h1.2l-0.6 0.9z" fill="#1e1e1e"/></svg>
<svg class="abs ei" style="left:73.6px;top:237px" width="14" height="14" viewBox="0 0 14 14"><path d="M0.9 13.1l1-3.7 2.7 2.7z" fill="#1e1e1e"/><path d="M2.3 9.9L9.4 2.8 11.3 4.7 4.2 11.8z" fill="none" stroke="#1e1e1e" stroke-width="1.15" stroke-linejoin="round"/><path d="M10.3 1.9l0.9-0.9q0.7-0.6 1.4 0l0.5 0.5q0.6 0.7 0 1.4l-0.9 0.9z" fill="#1e1e1e"/></svg>
<svg class="abs ei" style="left:102.2px;top:237px" width="13" height="14" viewBox="0 0 13 14"><circle cx="6.3" cy="7.6" r="5.3" fill="none" stroke="#2a2a2a" stroke-width="1.05"/><path d="M6.3 4.6v3.4h2.2" fill="none" stroke="#2a2a2a" stroke-width="1.1"/><path d="M0.6 3.6A2.55 2.55 0 0 1 4.4 0.3z" fill="#1e1e1e"/><path d="M12 3.6A2.55 2.55 0 0 0 8.2 0.3z" fill="#1e1e1e"/></svg>
<svg class="abs ei" style="left:130px;top:237px" width="13" height="14" viewBox="0 0 13 14"><path d="M0.4 0.6h1.6l0.8 0.7h6.8l0.8-0.7h1.6v12.4h-11.6z" fill="#222"/><rect x="1.5" y="4" width="9.4" height="8" fill="#fafafa"/><g fill="#1e1e1e"><circle cx="5.5" cy="5.9" r="0.8"/><circle cx="7.8" cy="5.9" r="0.8"/><circle cx="10.1" cy="5.9" r="0.8"/><circle cx="3.2" cy="8.2" r="0.8"/><circle cx="5.5" cy="8.2" r="0.8"/><circle cx="7.8" cy="8.2" r="0.8"/><circle cx="10.1" cy="8.2" r="0.8"/><circle cx="3.2" cy="10.5" r="0.8"/><circle cx="5.5" cy="10.5" r="0.8"/><circle cx="7.8" cy="10.5" r="0.8"/></g></svg>
<svg class="abs ei" style="left:158px;top:237px" width="14" height="13" viewBox="0 0 14 13" fill="none" stroke="#1e1e1e" stroke-width="1.6"><path d="M2.3 11.8A5 5 0 0 1 11 4.2"/><path d="M13.2 1.2v5.2H8z" fill="#1e1e1e" stroke="none"/></svg>
<div class="abs td" style="left:210px;top:233px;width:80px">Drbfxx</div>
<div class="abs td" style="left:290px;top:233px;width:77px">Gvjjri</div>
<div class="abs td" style="left:367px;top:233px;width:354px">d43c60ae2ecb2af87da8070eb7ebb40f@pushoperations.com</div>
<div class="abs td" style="left:774px;top:233px;width:65px">5182</div>
<div class="abs td" style="left:839px;top:233px;width:142px">Financial Analyst</div>
<div class="abs td" style="left:981px;top:233px;width:90px">Aug 9, 2020</div>
<div class="abs td" style="left:1071px;top:233px;width:145px">Junior HR Coordinator</div>
<div class="abs cb" style="left:11px;top:265px"></div>
<svg class="abs ei" style="left:48.3px;top:267px" width="11" height="13" viewBox="0 0 11 13"><circle cx="5.5" cy="2.6" r="2.5" fill="#1e1e1e"/><path d="M0.6 12.4V7.6q0-1.5 1.5-1.7l2.3-0.3 1.1 4.2 1.1-4.2 2.3 0.3q1.5 0.2 1.5 1.7v4.8z" fill="#1e1e1e"/><path d="M4.9 5.5h1.2l-0.6 0.9z" fill="#1e1e1e"/></svg>
<svg class="abs ei" style="left:73.6px;top:267px" width="14" height="14" viewBox="0 0 14 14"><path d="M0.9 13.1l1-3.7 2.7 2.7z" fill="#1e1e1e"/><path d="M2.3 9.9L9.4 2.8 11.3 4.7 4.2 11.8z" fill="none" stroke="#1e1e1e" stroke-width="1.15" stroke-linejoin="round"/><path d="M10.3 1.9l0.9-0.9q0.7-0.6 1.4 0l0.5 0.5q0.6 0.7 0 1.4l-0.9 0.9z" fill="#1e1e1e"/></svg>
<svg class="abs ei" style="left:102.2px;top:267px" width="13" height="14" viewBox="0 0 13 14"><circle cx="6.3" cy="7.6" r="5.3" fill="none" stroke="#2a2a2a" stroke-width="1.05"/><path d="M6.3 4.6v3.4h2.2" fill="none" stroke="#2a2a2a" stroke-width="1.1"/><path d="M0.6 3.6A2.55 2.55 0 0 1 4.4 0.3z" fill="#1e1e1e"/><path d="M12 3.6A2.55 2.55 0 0 0 8.2 0.3z" fill="#1e1e1e"/></svg>
<svg class="abs ei" style="left:130px;top:267px" width="13" height="14" viewBox="0 0 13 14"><path d="M0.4 0.6h1.6l0.8 0.7h6.8l0.8-0.7h1.6v12.4h-11.6z" fill="#222"/><rect x="1.5" y="4" width="9.4" height="8" fill="#fafafa"/><g fill="#1e1e1e"><circle cx="5.5" cy="5.9" r="0.8"/><circle cx="7.8" cy="5.9" r="0.8"/><circle cx="10.1" cy="5.9" r="0.8"/><circle cx="3.2" cy="8.2" r="0.8"/><circle cx="5.5" cy="8.2" r="0.8"/><circle cx="7.8" cy="8.2" r="0.8"/><circle cx="10.1" cy="8.2" r="0.8"/><circle cx="3.2" cy="10.5" r="0.8"/><circle cx="5.5" cy="10.5" r="0.8"/><circle cx="7.8" cy="10.5" r="0.8"/></g></svg>
<svg class="abs ei" style="left:158px;top:267px" width="14" height="13" viewBox="0 0 14 13" fill="none" stroke="#1e1e1e" stroke-width="1.6"><path d="M2.3 11.8A5 5 0 0 1 11 4.2"/><path d="M13.2 1.2v5.2H8z" fill="#1e1e1e" stroke="none"/></svg>
<div class="abs td" style="left:210px;top:263px;width:80px">Qeupnx</div>
<div class="abs td" style="left:290px;top:263px;width:77px">Gxyybf</div>
<div class="abs td" style="left:367px;top:263px;width:354px">colinmanning@pushoperations.com</div>
<div class="abs td" style="left:774px;top:263px;width:65px">67123</div>
<div class="abs td" style="left:839px;top:263px;width:142px">Junior HR Coordinator</div>
<div class="abs td" style="left:981px;top:263px;width:90px">Jun 4, 2021</div>
<div class="abs td" style="left:1071px;top:263px;width:145px">Junior HR Coordinator</div>
<div class="abs cb" style="left:11px;top:295px"></div>
<svg class="abs ei" style="left:48.3px;top:297px" width="11" height="13" viewBox="0 0 11 13"><circle cx="5.5" cy="2.6" r="2.5" fill="#1e1e1e"/><path d="M0.6 12.4V7.6q0-1.5 1.5-1.7l2.3-0.3 1.1 4.2 1.1-4.2 2.3 0.3q1.5 0.2 1.5 1.7v4.8z" fill="#1e1e1e"/><path d="M4.9 5.5h1.2l-0.6 0.9z" fill="#1e1e1e"/></svg>
<svg class="abs ei" style="left:73.6px;top:297px" width="14" height="14" viewBox="0 0 14 14"><path d="M0.9 13.1l1-3.7 2.7 2.7z" fill="#1e1e1e"/><path d="M2.3 9.9L9.4 2.8 11.3 4.7 4.2 11.8z" fill="none" stroke="#1e1e1e" stroke-width="1.15" stroke-linejoin="round"/><path d="M10.3 1.9l0.9-0.9q0.7-0.6 1.4 0l0.5 0.5q0.6 0.7 0 1.4l-0.9 0.9z" fill="#1e1e1e"/></svg>
<svg class="abs ei" style="left:102.2px;top:297px" width="13" height="14" viewBox="0 0 13 14"><circle cx="6.3" cy="7.6" r="5.3" fill="none" stroke="#2a2a2a" stroke-width="1.05"/><path d="M6.3 4.6v3.4h2.2" fill="none" stroke="#2a2a2a" stroke-width="1.1"/><path d="M0.6 3.6A2.55 2.55 0 0 1 4.4 0.3z" fill="#1e1e1e"/><path d="M12 3.6A2.55 2.55 0 0 0 8.2 0.3z" fill="#1e1e1e"/></svg>
<svg class="abs ei" style="left:130px;top:297px" width="13" height="14" viewBox="0 0 13 14"><path d="M0.4 0.6h1.6l0.8 0.7h6.8l0.8-0.7h1.6v12.4h-11.6z" fill="#222"/><rect x="1.5" y="4" width="9.4" height="8" fill="#fafafa"/><g fill="#1e1e1e"><circle cx="5.5" cy="5.9" r="0.8"/><circle cx="7.8" cy="5.9" r="0.8"/><circle cx="10.1" cy="5.9" r="0.8"/><circle cx="3.2" cy="8.2" r="0.8"/><circle cx="5.5" cy="8.2" r="0.8"/><circle cx="7.8" cy="8.2" r="0.8"/><circle cx="10.1" cy="8.2" r="0.8"/><circle cx="3.2" cy="10.5" r="0.8"/><circle cx="5.5" cy="10.5" r="0.8"/><circle cx="7.8" cy="10.5" r="0.8"/></g></svg>
<svg class="abs ei" style="left:158px;top:297px" width="14" height="13" viewBox="0 0 14 13" fill="none" stroke="#1e1e1e" stroke-width="1.6"><path d="M2.3 11.8A5 5 0 0 1 11 4.2"/><path d="M13.2 1.2v5.2H8z" fill="#1e1e1e" stroke="none"/></svg>
<div class="abs td" style="left:210px;top:293px;width:80px">Ejhitw</div>
<div class="abs td" style="left:290px;top:293px;width:77px">Idsgbl</div>
<div class="abs td" style="left:367px;top:293px;width:354px">nickyoung@pushoperations.com</div>
<div class="abs td" style="left:774px;top:293px;width:65px">2222</div>
<div class="abs td" style="left:839px;top:293px;width:142px">HR Coordinator</div>
<div class="abs td" style="left:981px;top:293px;width:90px">Jun 1, 2019</div>
<div class="abs td" style="left:1071px;top:293px;width:145px">HR Coordinator</div>
<div class="abs cb" style="left:11px;top:325px"></div>
<svg class="abs ei" style="left:48.3px;top:327px" width="11" height="13" viewBox="0 0 11 13"><circle cx="5.5" cy="2.6" r="2.5" fill="#1e1e1e"/><path d="M0.6 12.4V7.6q0-1.5 1.5-1.7l2.3-0.3 1.1 4.2 1.1-4.2 2.3 0.3q1.5 0.2 1.5 1.7v4.8z" fill="#1e1e1e"/><path d="M4.9 5.5h1.2l-0.6 0.9z" fill="#1e1e1e"/></svg>
<svg class="abs ei" style="left:73.6px;top:327px" width="14" height="14" viewBox="0 0 14 14"><path d="M0.9 13.1l1-3.7 2.7 2.7z" fill="#1e1e1e"/><path d="M2.3 9.9L9.4 2.8 11.3 4.7 4.2 11.8z" fill="none" stroke="#1e1e1e" stroke-width="1.15" stroke-linejoin="round"/><path d="M10.3 1.9l0.9-0.9q0.7-0.6 1.4 0l0.5 0.5q0.6 0.7 0 1.4l-0.9 0.9z" fill="#1e1e1e"/></svg>
<svg class="abs ei" style="left:102.2px;top:327px" width="13" height="14" viewBox="0 0 13 14"><circle cx="6.3" cy="7.6" r="5.3" fill="none" stroke="#2a2a2a" stroke-width="1.05"/><path d="M6.3 4.6v3.4h2.2" fill="none" stroke="#2a2a2a" stroke-width="1.1"/><path d="M0.6 3.6A2.55 2.55 0 0 1 4.4 0.3z" fill="#1e1e1e"/><path d="M12 3.6A2.55 2.55 0 0 0 8.2 0.3z" fill="#1e1e1e"/></svg>
<svg class="abs ei" style="left:130px;top:327px" width="13" height="14" viewBox="0 0 13 14"><path d="M0.4 0.6h1.6l0.8 0.7h6.8l0.8-0.7h1.6v12.4h-11.6z" fill="#222"/><rect x="1.5" y="4" width="9.4" height="8" fill="#fafafa"/><g fill="#1e1e1e"><circle cx="5.5" cy="5.9" r="0.8"/><circle cx="7.8" cy="5.9" r="0.8"/><circle cx="10.1" cy="5.9" r="0.8"/><circle cx="3.2" cy="8.2" r="0.8"/><circle cx="5.5" cy="8.2" r="0.8"/><circle cx="7.8" cy="8.2" r="0.8"/><circle cx="10.1" cy="8.2" r="0.8"/><circle cx="3.2" cy="10.5" r="0.8"/><circle cx="5.5" cy="10.5" r="0.8"/><circle cx="7.8" cy="10.5" r="0.8"/></g></svg>
<svg class="abs ei" style="left:158px;top:327px" width="14" height="13" viewBox="0 0 14 13" fill="none" stroke="#1e1e1e" stroke-width="1.6"><path d="M2.3 11.8A5 5 0 0 1 11 4.2"/><path d="M13.2 1.2v5.2H8z" fill="#1e1e1e" stroke="none"/></svg>
<div class="abs td" style="left:210px;top:323px;width:80px">Digiud</div>
<div class="abs td" style="left:290px;top:323px;width:77px">Iesery</div>
<div class="abs td" style="left:367px;top:323px;width:354px">rachelgomez@pushoperations.com</div>
<div class="abs td" style="left:774px;top:323px;width:65px">4882</div>
<div class="abs td" style="left:839px;top:323px;width:142px">Financial Analyst</div>
<div class="abs td" style="left:981px;top:323px;width:90px">Aug 6, 2021</div>
<div class="abs td" style="left:1071px;top:323px;width:145px">Events Coordinator</div>
<div class="abs cb" style="left:11px;top:355px"></div>
<svg class="abs ei" style="left:48.3px;top:357px" width="11" height="13" viewBox="0 0 11 13"><circle cx="5.5" cy="2.6" r="2.5" fill="#1e1e1e"/><path d="M0.6 12.4V7.6q0-1.5 1.5-1.7l2.3-0.3 1.1 4.2 1.1-4.2 2.3 0.3q1.5 0.2 1.5 1.7v4.8z" fill="#1e1e1e"/><path d="M4.9 5.5h1.2l-0.6 0.9z" fill="#1e1e1e"/></svg>
<svg class="abs ei" style="left:73.6px;top:357px" width="14" height="14" viewBox="0 0 14 14"><path d="M0.9 13.1l1-3.7 2.7 2.7z" fill="#1e1e1e"/><path d="M2.3 9.9L9.4 2.8 11.3 4.7 4.2 11.8z" fill="none" stroke="#1e1e1e" stroke-width="1.15" stroke-linejoin="round"/><path d="M10.3 1.9l0.9-0.9q0.7-0.6 1.4 0l0.5 0.5q0.6 0.7 0 1.4l-0.9 0.9z" fill="#1e1e1e"/></svg>
<svg class="abs ei" style="left:102.2px;top:357px" width="13" height="14" viewBox="0 0 13 14"><circle cx="6.3" cy="7.6" r="5.3" fill="none" stroke="#2a2a2a" stroke-width="1.05"/><path d="M6.3 4.6v3.4h2.2" fill="none" stroke="#2a2a2a" stroke-width="1.1"/><path d="M0.6 3.6A2.55 2.55 0 0 1 4.4 0.3z" fill="#1e1e1e"/><path d="M12 3.6A2.55 2.55 0 0 0 8.2 0.3z" fill="#1e1e1e"/></svg>
<svg class="abs ei" style="left:130px;top:357px" width="13" height="14" viewBox="0 0 13 14"><path d="M0.4 0.6h1.6l0.8 0.7h6.8l0.8-0.7h1.6v12.4h-11.6z" fill="#222"/><rect x="1.5" y="4" width="9.4" height="8" fill="#fafafa"/><g fill="#1e1e1e"><circle cx="5.5" cy="5.9" r="0.8"/><circle cx="7.8" cy="5.9" r="0.8"/><circle cx="10.1" cy="5.9" r="0.8"/><circle cx="3.2" cy="8.2" r="0.8"/><circle cx="5.5" cy="8.2" r="0.8"/><circle cx="7.8" cy="8.2" r="0.8"/><circle cx="10.1" cy="8.2" r="0.8"/><circle cx="3.2" cy="10.5" r="0.8"/><circle cx="5.5" cy="10.5" r="0.8"/><circle cx="7.8" cy="10.5" r="0.8"/></g></svg>
<svg class="abs ei" style="left:158px;top:357px" width="14" height="13" viewBox="0 0 14 13" fill="none" stroke="#1e1e1e" stroke-width="1.6"><path d="M2.3 11.8A5 5 0 0 1 11 4.2"/><path d="M13.2 1.2v5.2H8z" fill="#1e1e1e" stroke="none"/></svg>
<div class="abs td" style="left:210px;top:353px;width:80px">Oukmie</div>
<div class="abs td" style="left:290px;top:353px;width:77px">Ksijzu</div>
<div class="abs td" style="left:367px;top:353px;width:354px">valeriemendes@pushoperations.com</div>
<div class="abs td" style="left:774px;top:353px;width:65px">6386</div>
<div class="abs td" style="left:839px;top:353px;width:142px">Events Coordinator</div>
<div class="abs td" style="left:981px;top:353px;width:90px">Mar 6, 2023</div>
</div>
<div class="abs pg" style="left:1125px;width:37px"></div>
<div class="abs pg" style="left:1167px;width:55px"></div>
<div class="abs pg" style="left:1253px;width:23px"></div>
<div class="abs pg" style="left:1281px;width:23px"></div>
<div class="abs pg" style="left:1309px;width:36px"></div>
<div class="abs pg" style="left:1350px;width:36px"></div>
<div class="abs pg" style="left:1227px;width:22px;background:#78b8c9;border-color:#6aa9bb"></div>
<div id="sb" class="abs"></div>
<div id="thumb" class="abs"></div>
<div class="abs btn" style="left:180px;width:116px;background:#20bd6d;color:#d9ffe8;box-shadow:inset 0 1px 0 rgba(90,80,70,.45),inset 1px 0 0 rgba(90,100,120,.25),0 1px 2px rgba(150,255,190,.6)">Add a New Employee</div>
<div class="abs btn" style="left:302px;width:90px;background:#10c3f2;color:#e3f8ff;box-shadow:inset 0 1px 0 rgba(80,90,110,.4),inset 1px 0 0 rgba(80,90,110,.2),0 1px 2px rgba(150,235,255,.6)">Invite Employee</div>
<div class="abs btn" style="left:398px;width:99px;background:#fff;color:#333;box-shadow:0 0 1px rgba(0,0,0,.08)">Show/Hide Salary</div>
<div class="abs" style="left:-24.5px;top:199px;width:79px;height:79px;border-radius:50%;mix-blend-mode:multiply;background:radial-gradient(circle closest-side,rgba(214,246,226,0) 0,rgba(214,246,226,0) 62%,rgba(210,246,224,.95) 69%,rgba(200,243,217,.95) 86%,rgba(200,243,217,0) 88%)"></div><div class="abs" style="left:-24.5px;top:199px;width:79px;height:79px;border-radius:50%;background:radial-gradient(circle closest-side,rgba(112,227,162,0) 0,rgba(112,227,162,0) 83%,rgba(112,227,162,.6) 86%,rgba(110,227,161,.9) 89%,rgba(108,226,160,.9) 97%,rgba(108,226,160,0) 100%)"></div>
<svg class="abs" style="left:13.3px;top:237.8px" width="11" height="16" viewBox="-1 -1 11 16"><path d="M0 0L0 11 2.6 8.6 4.8 13.8 6.8 12.9 4.7 7.9 8.2 7.8z" fill="#000" stroke="#fff" stroke-width="0.9" stroke-linejoin="round"/></svg>
<div id="blk" class="abs"></div>
</body></html>
